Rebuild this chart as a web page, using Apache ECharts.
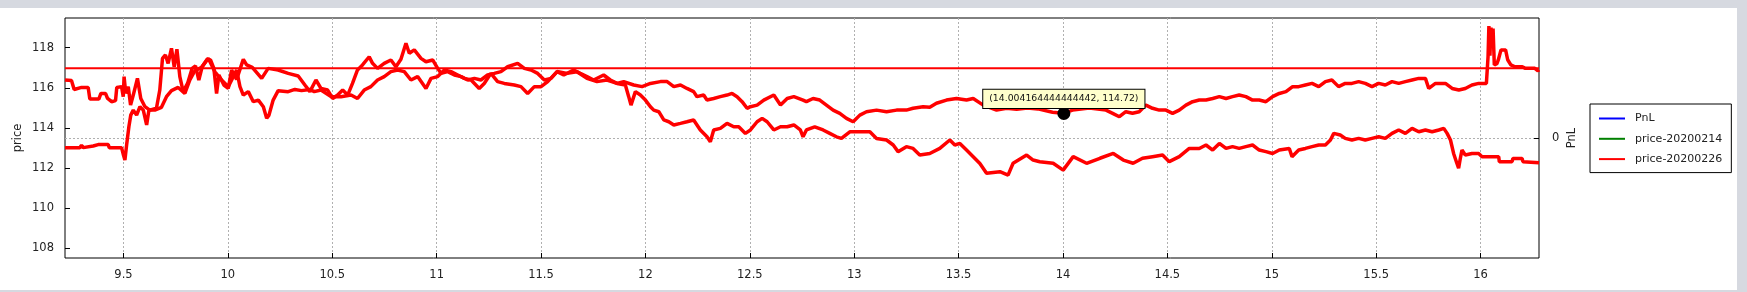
<!DOCTYPE html>
<html><head><meta charset="utf-8">
<script src="https://cdn.jsdelivr.net/npm/echarts@6/dist/echarts.min.js"></script>
<style>
html,body{margin:0;padding:0;background:#d6d9e0;width:1747px;height:292px;overflow:hidden}
#panel{position:absolute;left:0;top:8px;width:1737px;height:282px;background:#fff}
#chart{position:absolute;left:0;top:0;width:1747px;height:292px}
</style></head><body><div id="panel"></div><div id="chart"></div>
<script>
// ---------- data ----------
const xTicks = [9.5, 10, 10.5, 11, 11.5, 12, 12.5, 13, 13.5, 14, 14.5, 15, 15.5, 16];
const yTicks = [108, 110, 112, 114, 116, 118];
const pnlTicks = [0];
const legendNames = ['PnL', 'price-20200214', 'price-20200226'];

const timeA = [9.22,9.251,9.264,9.299,9.331,9.339,9.382,9.392,9.414,9.424,9.443,9.462,9.468,9.491,9.499,9.503,9.511,9.523,9.534,9.547,9.567,9.583,9.603,9.626,9.658,9.674,9.687,9.701,9.714,9.730,9.743,9.756,9.770,9.786,9.807,9.829,9.845,9.861,9.877,9.901,9.917,9.933,9.946,9.957,9.981,10.002,10.018,10.042,10.074,10.090,10.117,10.162,10.193,10.241,10.289,10.337,10.369,10.393,10.422,10.446,10.478,10.502,10.526,10.550,10.574,10.597,10.621,10.645,10.677,10.693,10.717,10.749,10.781,10.805,10.829,10.853,10.869,10.893,10.925,10.949,10.981,11.005,11.021,11.053,11.085,11.117,11.149,11.181,11.212,11.244,11.276,11.308,11.340,11.388,11.420,11.452,11.484,11.516,11.548,11.577,11.609,11.656,11.688,11.720,11.752,11.800,11.832,11.864,11.896,11.944,11.984,12.024,12.072,12.104,12.136,12.168,12.199,12.231,12.247,12.279,12.295,12.327,12.359,12.391,12.415,12.439,12.463,12.487,12.503,12.535,12.567,12.615,12.647,12.679,12.711,12.755,12.771,12.803,12.835,12.867,12.899,12.931,12.963,12.995,13.027,13.059,13.107,13.155,13.203,13.250,13.282,13.330,13.362,13.394,13.442,13.490,13.538,13.570,13.618,13.682,13.730,13.778,13.830,13.880,13.950,14.001,14.046,14.126,14.206,14.238,14.270,14.301,14.333,14.365,14.397,14.429,14.461,14.493,14.525,14.557,14.589,14.621,14.653,14.685,14.717,14.749,14.781,14.812,14.844,14.876,14.908,14.940,14.972,15.004,15.036,15.068,15.100,15.129,15.161,15.193,15.225,15.257,15.288,15.320,15.352,15.384,15.416,15.448,15.480,15.512,15.544,15.576,15.608,15.640,15.672,15.704,15.736,15.752,15.784,15.832,15.864,15.896,15.927,15.959,15.991,16.028,16.036,16.040,16.045,16.050,16.055,16.060,16.066,16.078,16.085,16.098,16.120,16.130,16.145,16.165,16.200,16.215,16.260,16.275,16.28];
const priceA = [116.39,116.36,115.92,116.02,116.02,115.44,115.44,115.72,115.72,115.47,115.31,115.36,116.02,116.06,115.56,116.56,115.72,116.06,115.14,115.64,116.47,115.47,115.06,114.89,114.98,115.89,117.47,117.64,117.22,117.97,117.05,117.92,116.56,115.81,116.22,116.97,117.09,116.39,117.05,117.42,117.39,116.97,115.72,116.64,116.14,115.97,116.89,116.42,117.42,117.14,117.02,116.47,116.97,116.89,116.72,116.59,116.14,115.81,116.39,115.97,115.89,115.47,115.64,115.89,115.64,116.22,116.89,117.14,117.55,117.22,116.97,117.22,117.39,117.05,117.42,118.22,117.72,117.89,117.47,117.30,117.39,116.97,116.72,116.81,116.64,116.56,116.39,116.47,116.39,116.64,116.72,116.81,117.05,117.22,116.97,116.89,116.72,116.39,116.47,116.81,116.64,116.89,116.72,116.56,116.39,116.64,116.39,116.22,116.31,116.14,116.06,116.22,116.31,116.31,116.06,116.14,115.97,115.81,115.56,115.64,115.39,115.47,115.56,115.64,115.72,115.56,115.31,114.98,115.06,115.14,115.39,115.64,115.14,115.47,115.56,115.39,115.31,115.47,115.39,115.14,114.89,114.73,114.48,114.31,114.64,114.81,114.89,114.81,114.89,114.89,114.98,115.06,115.03,115.23,115.39,115.47,115.39,115.47,115.14,114.89,114.98,114.93,115.00,114.95,114.78,114.73,114.89,115.00,114.89,114.73,114.56,114.81,114.73,114.81,115.14,114.98,114.89,114.89,114.73,114.89,115.14,115.31,115.39,115.39,115.47,115.56,115.47,115.56,115.64,115.56,115.39,115.39,115.31,115.56,115.72,115.81,116.06,116.06,116.14,116.22,116.06,116.31,116.39,116.06,116.22,116.22,116.31,116.22,116.06,116.22,116.14,116.31,116.22,116.31,116.39,116.47,116.47,115.97,116.22,116.22,115.97,115.89,115.97,116.14,116.22,116.22,117.55,119.08,117.60,119.00,118.20,118.95,117.14,117.20,117.39,117.89,117.89,117.40,117.14,117.05,117.05,116.97,116.97,116.85,116.90];

const timeB = [9.22,9.291,9.299,9.307,9.355,9.379,9.427,9.432,9.491,9.500,9.507,9.516,9.526,9.535,9.547,9.563,9.579,9.595,9.611,9.622,9.650,9.682,9.706,9.730,9.762,9.794,9.818,9.842,9.874,9.906,9.938,9.970,10.002,10.026,10.042,10.058,10.074,10.098,10.122,10.146,10.170,10.186,10.197,10.217,10.241,10.289,10.321,10.353,10.393,10.414,10.446,10.494,10.542,10.590,10.621,10.653,10.685,10.717,10.749,10.781,10.813,10.845,10.877,10.909,10.949,10.973,11.005,11.037,11.069,11.101,11.133,11.165,11.204,11.228,11.260,11.292,11.324,11.372,11.404,11.436,11.468,11.500,11.532,11.577,11.625,11.672,11.720,11.768,11.816,11.864,11.904,11.920,11.931,11.952,11.976,12.000,12.024,12.040,12.064,12.088,12.112,12.136,12.168,12.199,12.231,12.263,12.295,12.311,12.327,12.359,12.391,12.423,12.447,12.479,12.503,12.535,12.559,12.583,12.615,12.647,12.679,12.711,12.742,12.755,12.771,12.811,12.851,12.883,12.915,12.939,12.979,13.027,13.075,13.107,13.155,13.187,13.210,13.250,13.282,13.314,13.362,13.410,13.458,13.482,13.506,13.538,13.570,13.602,13.634,13.698,13.737,13.761,13.826,13.857,13.889,13.953,14.001,14.049,14.113,14.177,14.241,14.289,14.336,14.381,14.429,14.477,14.509,14.557,14.605,14.653,14.685,14.717,14.749,14.781,14.812,14.844,14.876,14.908,14.940,14.972,15.004,15.036,15.084,15.097,15.129,15.161,15.193,15.225,15.257,15.281,15.297,15.328,15.352,15.384,15.416,15.448,15.480,15.512,15.544,15.576,15.608,15.640,15.672,15.704,15.736,15.768,15.800,15.824,15.840,15.856,15.871,15.887,15.895,15.903,15.911,15.927,15.959,15.991,16.007,16.087,16.090,16.151,16.155,16.199,16.203,16.28];
const priceB = [113.02,113.02,113.13,113.02,113.10,113.17,113.17,113.02,113.02,112.65,112.40,113.23,114.06,114.64,114.89,114.64,115.06,114.89,114.15,114.89,114.89,115.03,115.56,115.86,116.02,115.72,116.39,116.85,117.02,117.47,116.80,116.39,116.06,116.56,116.89,116.06,115.64,115.81,115.31,115.39,115.06,114.48,114.64,115.39,115.86,115.81,115.92,115.86,115.92,115.81,115.89,115.56,115.56,115.64,115.47,115.89,116.06,116.39,116.56,116.81,116.89,116.81,116.39,116.56,115.97,116.47,116.56,116.89,116.81,116.64,116.47,116.39,115.97,116.22,116.72,116.31,116.22,116.14,116.06,115.72,116.06,116.06,116.31,116.81,116.72,116.80,116.47,116.31,116.39,116.22,116.14,115.56,115.14,115.81,115.64,115.39,115.06,114.89,114.81,114.40,114.31,114.15,114.23,114.31,114.40,113.90,113.56,113.31,113.90,113.98,114.23,114.06,114.06,113.73,113.90,114.31,114.48,114.31,113.90,114.06,114.06,114.15,113.90,113.56,113.90,114.06,113.90,113.73,113.56,113.48,113.81,113.81,113.81,113.48,113.40,113.15,112.82,113.07,112.98,112.65,112.73,112.98,113.40,113.15,113.23,112.90,112.57,112.23,111.74,111.82,111.65,112.24,112.65,112.40,112.32,112.24,111.90,112.57,112.24,112.49,112.73,112.40,112.24,112.49,112.57,112.65,112.32,112.57,112.98,112.98,113.15,112.90,113.23,112.98,113.07,112.98,113.07,113.15,112.90,112.82,112.73,112.90,112.98,112.57,112.90,112.98,113.07,113.15,113.15,113.40,113.73,113.65,113.48,113.40,113.48,113.40,113.48,113.56,113.48,113.73,113.90,113.73,113.98,113.81,113.90,113.81,113.90,113.98,113.73,113.40,112.73,112.23,111.99,112.48,112.90,112.65,112.73,112.73,112.57,112.57,112.32,112.32,112.48,112.48,112.32,112.27];

const refTimes = [9.22, 16.28];
const refLevel = [116.97, 116.97];
const cursorPoint = [14.004164444444442, 114.72];

// ---------- chart ----------
const FONT = 'DejaVu Sans';
const zip = (xs, ys) => xs.map((x, i) => [x, ys[i]]);
const xMin = 9.22, xMax = 16.28, yMin = 107.52, yMax = 119.48;

const chart = echarts.init(document.getElementById('chart'), null, {renderer: 'canvas'});
const redLine = (data, w) => ({
  type: 'line', name: 'price-20200226', data: data, showSymbol: false, symbol: 'none',
  silent: true, color: '#ff0000', lineStyle: {color: '#ff0000', width: w}, itemStyle: {color: '#ff0000'}
});
chart.setOption({
  animation: false,
  grid: {left: 65, top: 18, width: 1474, height: 240, show: true, borderColor: '#000', borderWidth: 1, backgroundColor: 'transparent'},
  xAxis: {
    type: 'value', min: xMin, max: xMax,
    axisLine: {show: false, onZero: false},
    axisTick: {show: true, inside: true, length: 5, lineStyle: {color: '#000'}, customValues: xTicks},
    axisLabel: {customValues: xTicks, margin: 11, fontFamily: FONT, fontSize: 11.5, color: '#222'},
    splitLine: {show: true, lineStyle: {color: '#b0b0b0', type: [2, 2], width: 1}}
  },
  yAxis: [{
    type: 'value', min: yMin, max: yMax, position: 'left',
    name: 'price', nameLocation: 'middle', nameGap: 41, nameRotate: 90, nameMoveOverlap: false,
    nameTextStyle: {fontFamily: FONT, fontSize: 11.5, color: '#222'},
    axisLine: {show: false, onZero: false},
    axisTick: {show: true, inside: true, length: 5, lineStyle: {color: '#000'}, customValues: yTicks},
    axisLabel: {customValues: yTicks, margin: 11, fontFamily: FONT, fontSize: 11.5, color: '#222'},
    splitLine: {show: false}
  }, {
    type: 'value', min: -1, max: 1, interval: 1, position: 'right',
    name: 'PnL', nameLocation: 'middle', nameGap: 27, nameRotate: 90, nameMoveOverlap: false,
    nameTextStyle: {fontFamily: FONT, fontSize: 11.5, color: '#222'},
    axisLine: {show: false, onZero: false},
    axisTick: {show: true, inside: true, length: 5, lineStyle: {color: '#000'}, customValues: pnlTicks},
    axisLabel: {customValues: pnlTicks, margin: 13, fontFamily: FONT, fontSize: 11.5, color: '#222'},
    splitLine: {show: true, lineStyle: {color: '#b0b0b0', type: [2, 2], width: 1}}
  }],
  legend: {
    data: legendNames, orient: 'vertical', left: 1590, top: 104,
    padding: [9, 9, 8, 9], itemGap: 9.3, itemWidth: 26, itemHeight: 2, icon: 'rect',
    borderColor: '#000', borderWidth: 1, backgroundColor: '#fff', borderRadius: 0,
    selectedMode: false,
    textStyle: {fontFamily: FONT, fontSize: 11, color: '#222', padding: [0, 0, 0, 5]}
  },
  series: [
    {type: 'line', name: 'PnL', yAxisIndex: 1, data: [], color: '#0000ff', lineStyle: {color: '#0000ff'}, itemStyle: {color: '#0000ff'}},
    {type: 'line', name: 'price-20200214', data: [], color: '#008000', lineStyle: {color: '#008000'}, itemStyle: {color: '#008000'}},
    redLine(zip(refTimes, refLevel), 2),
    redLine(zip(timeA, priceA), 3.5),
    redLine(zip(timeB, priceB), 3.5),
    {
      type: 'scatter', name: 'cursor', data: [cursorPoint], symbolSize: 13, silent: true, z: 5,
      itemStyle: {color: '#000', opacity: 1},
      label: {
        show: true, position: 'top', distance: -1,
        formatter: p => '(' + p.value[0] + ', ' + p.value[1] + ')',
        backgroundColor: '#ffffcc', borderColor: '#000', borderWidth: 1, padding: [4.6, 6, 4.6, 6],
        fontFamily: FONT, fontSize: 9.3, color: '#111'
      }
    }
  ]
});
</script></body></html>
